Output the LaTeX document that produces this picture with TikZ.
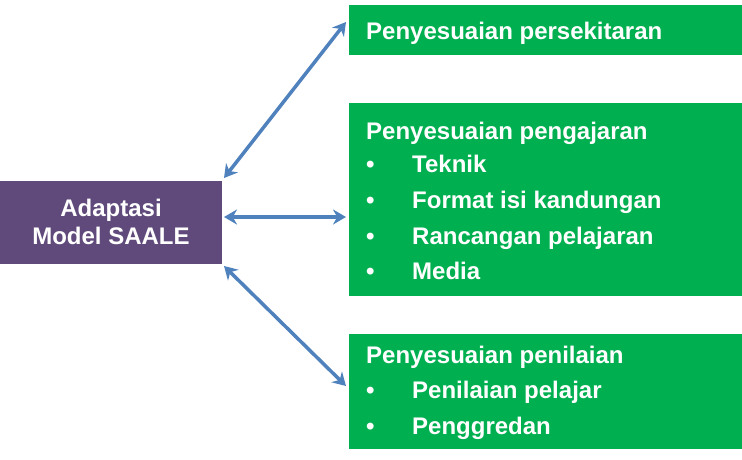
\documentclass[tikz,border=0pt]{standalone}
\usepackage{fontspec}
\setmainfont{Liberation Sans}
\usetikzlibrary{arrows.meta}
\definecolor{pur}{HTML}{604A7B}
\definecolor{grn}{HTML}{00B050}
\definecolor{arr}{HTML}{4F81BD}
\begin{document}
\begin{tikzpicture}[x=1pt,y=-1pt,
  box/.style={draw=none,minimum width=#1,inner sep=0},
  txt/.style={text=white,font=\fontsize{24}{28}\selectfont\bfseries,anchor=base west,inner sep=0},
  dbl/.style={arr,line width=3.5pt,{Stealth[length=13pt,width=15pt]}-{Stealth[length=13pt,width=15pt]}}]
\useasboundingbox (0,0) rectangle (742,459);
\fill[pur] (0,181) rectangle (222,264);
\node[box=222pt] (L) at (111,222.5) {};
\node[text=white,font=\fontsize{24}{28}\selectfont\bfseries,align=center] (Lt) at (111,222) {Adaptasi\\Model SAALE};
\fill[grn] (349,5) rectangle (742,55);
\fill[grn] (349,103) rectangle (742,296);
\fill[grn] (349,334) rectangle (742,449);
\node[txt] (t1) at (366,39) {Penyesuaian persekitaran};
\node[txt] (t2) at (366,139) {Penyesuaian pengajaran};
\foreach \y/\s [count=\i] in {172/Teknik,208/Format isi kandungan,244/Rancangan pelajaran,279/Media}{
  \node[txt] (b\i) at (366,\y) {\textbullet};
  \node[txt] (m\i) at (412,\y) {\s};}
\node[txt] (t3) at (366,363) {Penyesuaian penilaian};
\node[txt] (c1) at (366,398) {\textbullet};
\node[txt] (n1) at (412,398) {Penilaian pelajar};
\node[txt] (c2) at (366,434) {\textbullet};
\node[txt] (n2) at (412,434) {Penggredan};
\coordinate (a1) at (224,178); \coordinate (a2) at (346,22);
\coordinate (a3) at (224,217); \coordinate (a4) at (346,217);
\coordinate (a5) at (224,266); \coordinate (a6) at (346,386);
\draw[dbl] (a1) -- (a2);
\draw[dbl] (a3) -- (a4);
\draw[dbl] (a5) -- (a6);
\end{tikzpicture}
\end{document}
